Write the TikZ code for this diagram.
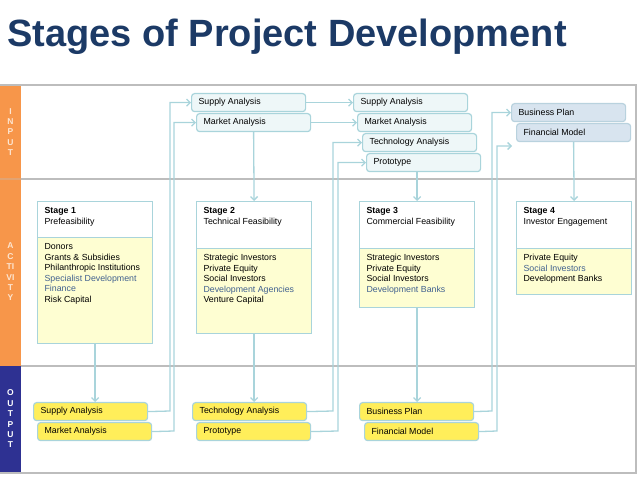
\documentclass[tikz,border=0pt]{standalone}
\usepackage{fontspec}
\setmainfont{Liberation Sans}
\usetikzlibrary{arrows.meta,calc}
\definecolor{titleblue}{HTML}{1C3A66}
\definecolor{barorange}{HTML}{F7964A}
\definecolor{barblue}{HTML}{2E3192}
\definecolor{lettorange}{HTML}{FDE6D2}
\definecolor{gridgrey}{HTML}{BDBDBD}
\definecolor{teal}{HTML}{A9D4DB}
\definecolor{infill}{HTML}{EEF7F8}
\definecolor{bgfill}{HTML}{D8E4EF}
\definecolor{bgline}{HTML}{B9D2DE}
\definecolor{outfill}{HTML}{FFEE5A}
\definecolor{bodyfill}{HTML}{FEFED2}
\definecolor{softblue}{HTML}{41618F}
\newcommand{\bxfont}{\fontsize{8.8}{10.6}\selectfont}
\newcommand{\lbx}[1]{\makebox[100pt][l]{#1}}
\newcommand{\topbx}[2]{\parbox[c][#1][t]{101pt}{\strut#2}}
\begin{document}
\begin{tikzpicture}[x=1pt,y=-1pt,
  smallbox/.style={draw=teal, line width=1.2pt, rounded corners=3pt, anchor=north west,
    inner xsep=7pt, inner ysep=0pt, minimum height=18pt, font=\bxfont, text=black},
  inbox/.style={smallbox, fill=infill},
  inbox2/.style={smallbox, fill=bgfill, draw=bgline},
  outbox/.style={smallbox, fill=outfill},
  stagehead/.style={draw=teal, line width=1.2pt, fill=white, anchor=north west,
    inner xsep=7pt, inner ysep=4.5pt, font=\bxfont, align=left},
  stagebody/.style={stagehead, fill=bodyfill},
  conn/.style={draw=teal, line width=1.3pt},
  arr/.style={conn, -{Straight Barb[length=3.5pt,width=7pt]}},
  barlabel/.style={font=\fontsize{8.5}{10.4}\selectfont\bfseries, align=center, inner sep=0pt},
  grid/.style={draw=gridgrey, line width=1.2pt}
]
\useasboundingbox (0,0) rectangle (638,478);

% title
\node[anchor=base west, inner sep=0pt, text=titleblue, font=\fontsize{38}{40}\selectfont\bfseries] (title) at (7,46.5) {Stages of Project Development};

% bands
\fill[barorange] (0,85) rectangle (21,366);
\fill[barblue] (0,366) rectangle (21,473);
\draw[grid] (0,85) -- (636,85) -- (636,473) -- (0,473);
\draw[grid] (21,179) -- (636,179);
\draw[grid, draw opacity=0.35] (0,179) -- (21,179);
\draw[grid] (21,366) -- (636,366);

\node[barlabel, text=lettorange] (linput) at (10.5,132) {I\\N\\P\\U\\T};
\node[barlabel, text=lettorange] (lact) at (10.5,272) {A\\C\\TI\\VI\\T\\Y};
\node[barlabel, text=white] (lout) at (10.5,419) {O\\U\\T\\P\\U\\T};

% input boxes
\node[inbox] (s2sup) at (191,93) {\lbx{Supply Analysis}};
\node[inbox] (s2mkt) at (196,113) {\lbx{Market Analysis}};
\node[inbox] (s3sup) at (353,93) {\lbx{Supply Analysis}};
\node[inbox] (s3mkt) at (357,113) {\lbx{Market Analysis}};
\node[inbox] (s3tech) at (362,133) {\lbx{Technology Analysis}};
\node[inbox] (s3proto) at (366,153) {\lbx{Prototype}};
\node[inbox2] (bp) at (511,103) {\lbx{Business Plan}};
\node[inbox2] (fm) at (516,123) {\lbx{Financial Model}};

% stage boxes
\node[stagehead] (st1h) at (37,201) {\topbx{27pt}{\textbf{Stage 1}\\Prefeasibility}};
\node[stagebody] (st1b) at (37,237) {\topbx{97pt}{Donors\\Grants \& Subsidies\\Philanthropic Institutions\\\textcolor{softblue}{Specialist Development}\\\textcolor{softblue}{Finance}\\Risk Capital}};
\node[stagehead] (st2h) at (196,201) {\topbx{38pt}{\textbf{Stage 2}\\Technical Feasibility}};
\node[stagebody] (st2b) at (196,248) {\topbx{76pt}{Strategic Investors\\Private Equity\\Social Investors\\\textcolor{softblue}{Development Agencies}\\Venture Capital}};
\node[stagehead] (st3h) at (359,201) {\topbx{38pt}{\textbf{Stage 3}\\Commercial Feasibility}};
\node[stagebody] (st3b) at (359,248) {\topbx{50pt}{Strategic Investors\\Private Equity\\Social Investors\\\textcolor{softblue}{Development Banks}}};
\node[stagehead] (st4h) at (516,201) {\topbx{38pt}{\textbf{Stage 4}\\Investor Engagement}};
\node[stagebody] (st4b) at (516,248) {\topbx{37pt}{Private Equity\\\textcolor{softblue}{Social Investors}\\Development Banks}};

% output boxes
\node[outbox] (o1sup) at (33,402) {\lbx{Supply Analysis}};
\node[outbox] (o1mkt) at (37,422) {\lbx{Market Analysis}};
\node[outbox] (o2tech) at (192,402) {\lbx{Technology Analysis}};
\node[outbox] (o2proto) at (196,422) {\lbx{Prototype}};
\node[outbox] (o3bp) at (359,402) {\lbx{Business Plan}};
\node[outbox] (o3fm) at (364,422) {\lbx{Financial Model}};

% vertical flows
\draw[arr] (st1b.south) -- (st1b.south |- o1sup.north);
\draw[arr] (s2mkt.south) -- (st2h.north);
\draw[arr] (st2b.south) -- (st2b.south |- o2tech.north);
\draw[arr] (st3h.north |- s3proto.south) -- (st3h.north);
\draw[arr] (st3b.south) -- (st3b.south |- o3bp.north);
\draw[arr] (fm.south) -- (st4h.north);

% feedback flows
\draw[arr] (o1sup.east) -- (170,411) |- (s2sup.west);
\draw[arr] (o1mkt.east) -- (174,431) |- (s2mkt.west);
\draw[arr] (s2sup.east) -- (s3sup.west);
\draw[arr] (s2mkt.east) -- (s3mkt.west);
\draw[arr] (o2tech.east) -- (333,411) |- (s3tech.west);
\draw[arr] (o2proto.east) -- (338,431) |- (s3proto.west);
\draw[arr] (o3bp.east) -- (492,411) |- (bp.west);
\coordinate (fmtip) at (512,146);
\draw[arr] (o3fm.east) -- (497,431) |- (fmtip);
\end{tikzpicture}
\end{document}
